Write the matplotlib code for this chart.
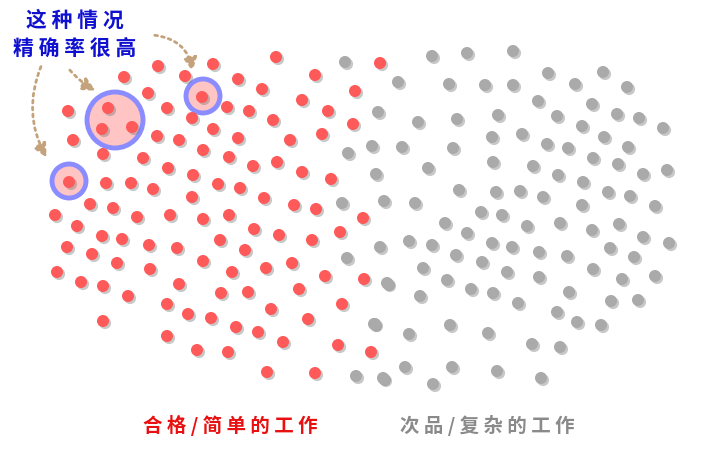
import matplotlib
matplotlib.use("Agg")
import matplotlib.pyplot as plt
import matplotlib.patheffects as pe
from matplotlib.patches import Circle

plt.rcParams['font.family'] = ['Noto Sans CJK SC', 'DejaVu Sans']

red_x = [276,380,158,213,124,185,238,315,262,355,148,202,68,108,102,132,167,192,227,249,273,302,328,353,
         73,157,179,213,238,290,322,103,143,203,229,253,277,302,331,168,193,69,106,131,153,218,240,192,264,
         294,316,90,113,55,137,170,229,203,363,
         77,102,122,149,177,254,279,220,245,312,340,67,92,117,150,203,232,266,292,325,364,57,81,103,128,179,
         221,248,299,342,167,188,211,271,308,103,236,258,283,167,197,228,338,371,267,315]
red_y = [57,63,66,64,77,76,79,75,89,91,93,97,111,108,129,127,108,118,107,111,120,100,111,124,
         140,136,140,129,138,140,134,154,158,150,157,166,162,172,179,168,175,182,183,183,189,184,188,197,198,
         205,209,204,208,215,217,215,215,219,218,
         226,236,239,245,248,229,235,240,250,240,232,247,254,263,269,261,272,268,263,276,279,272,282,286,296,284,
         293,292,289,304,304,314,318,309,319,321,327,332,342,336,350,352,345,352,372,373]

grey_x = [345,432,467,513,398,449,485,513,548,575,603,627,538,592,378,418,457,498,557,617,639,663,582,492,522,
          547,568,604,628,348,372,402,453,493,533,593,618,428,376,558,583,643,667,459,496,520,543,608,630,342,
          384,415,481,502,582,655,380,347,387,374,356,383,
          445,527,560,592,619,467,643,669,409,432,492,512,539,567,610,634,456,482,507,423,539,593,622,655,388,
          447,471,493,420,518,569,557,611,638,375,409,450,488,577,601,532,560,405,452,497,384,433,541]
grey_y = [62,56,53,51,82,84,85,85,73,84,72,87,101,104,112,122,119,115,116,114,118,128,126,137,134,
          144,148,137,147,153,146,147,148,162,166,158,164,168,174,175,182,174,170,190,192,191,197,192,196,203,
          201,203,212,215,205,206,247,258,283,324,376,378,
          223,226,223,230,224,233,237,243,241,245,243,247,252,256,248,257,255,262,272,268,277,269,279,276,284,
          280,289,293,296,303,292,312,301,300,324,334,325,333,322,325,344,347,367,367,371,379,384,378]

circle_cx = [115, 203, 69]
circle_cy = [120, 96, 181]
circle_r = [28, 17, 17]

fig = plt.figure(figsize=(7.2, 4.69), dpi=100)
ax = fig.add_axes([0, 0, 1, 1])
ax.set_xlim(0, 720)
ax.set_ylim(469, 0)
ax.axis('off')

for cx, cy, r in zip(circle_cx, circle_cy, circle_r):
    ax.add_patch(Circle((cx, cy), r, facecolor='#ffc4c4', edgecolor='#8a8cff', lw=3.5, zorder=1))

shadow = [pe.SimplePatchShadow(offset=(1.5, -1.5), shadow_rgbFace='#777777', alpha=0.4), pe.Normal()]
ax.scatter(red_x, red_y, s=75, c='#ff5a5a', linewidths=0, zorder=3, path_effects=shadow)
ax.scatter(grey_x, grey_y, s=75, c='#aaaaaa', linewidths=0, zorder=3, path_effects=shadow)

ax.text(75, 20, '这 种 情 况', color='#1010d0', fontsize=15, fontweight='bold', ha='center', va='center')
ax.text(75, 48, '精 确 率 很 高', color='#1010d0', fontsize=15, fontweight='bold', ha='center', va='center')

aprops = dict(arrowstyle='-|>,head_length=0.8,head_width=0.4', color='#c4a27c', lw=2, linestyle=(0, (1, 1.5)))
ax.annotate('', xy=(48, 160), xytext=(42, 64), arrowprops=dict(connectionstyle='arc3,rad=0.25', **aprops))
ax.annotate('', xy=(98, 92), xytext=(68, 68), arrowprops=dict(connectionstyle='arc3,rad=0.1', **aprops))
ax.annotate('', xy=(193, 74), xytext=(152, 35), arrowprops=dict(connectionstyle='arc3,rad=-0.4', **aprops))

ax.text(230, 425, '合 格 / 简 单 的 工 作', color='#e81010', fontsize=14, fontweight='bold', ha='center', va='center')
ax.text(487, 425, '次 品 / 复 杂 的 工 作', color='#8a8a8a', fontsize=14, fontweight='bold', ha='center', va='center')

fig.savefig('out.png', dpi=100)
